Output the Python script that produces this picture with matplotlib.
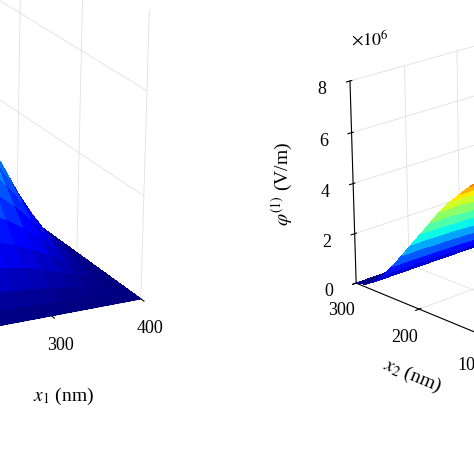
import numpy as np
import matplotlib
matplotlib.use("Agg")
import matplotlib.pyplot as plt

plt.rcParams['font.family'] = ['Liberation Serif', 'DejaVu Serif']
plt.rcParams['mathtext.fontset'] = 'stix'

x1_nm = [0, 20, 40, 60, 80, 100, 120, 140, 160, 180, 200, 220, 240, 260, 280, 300, 320, 340, 360, 380, 400]
p1 = [1.0, 1.0, 1.0, 0.99, 0.99, 0.98, 0.97, 0.96, 0.95, 0.93, 0.91, 0.88, 0.84, 0.79, 0.72, 0.63, 0.51, 0.37, 0.21, 0.07, 0.0]
x2_nm = [0, 15, 30, 45, 60, 75, 90, 105, 120, 135, 150, 165, 180, 195, 210, 225, 240, 255, 270, 285, 300]
p2 = [1.0, 0.995, 0.98, 0.96, 0.93, 0.9, 0.86, 0.82, 0.77, 0.71, 0.65, 0.58, 0.5, 0.42, 0.34, 0.26, 0.18, 0.11, 0.05, 0.015, 0.0]
phi_max = 7.2e6

X1, X2 = np.meshgrid(x1_nm, x2_nm)
PHI = phi_max * np.outer(p2, p1)

fig = plt.figure(figsize=(4.74, 4.74), dpi=100)


def make_axes(rect, azim, flip_y=False, ztop=8e6):
    ax = fig.add_axes(rect, projection='3d')
    ax.plot_surface(X1, X2, PHI, cmap='jet', vmin=0, vmax=7.4e6, shade=False,
                    linewidth=0, antialiased=False, rstride=1, cstride=1)
    ax.view_init(elev=20, azim=azim)
    ax.set_xticks([0, 100, 200, 300, 400])
    ax.set_yticks([0, 100, 200, 300])
    zt = [v for v in [0, 2e6, 4e6, 6e6, 8e6] if v <= ztop]
    ax.set_zticks(zt)
    ax.set_zticklabels([str(int(v / 1e6)) for v in zt])
    ax.set_xlim(0, 400)
    ax.set_ylim((300, 0) if flip_y else (0, 300))
    ax.set_zlim(0, ztop)
    for a in (ax.xaxis, ax.yaxis, ax.zaxis):
        a.set_pane_color((1, 1, 1, 0))
        a._axinfo['grid']['color'] = (0.88, 0.88, 0.88, 1)
        a._axinfo['grid']['linewidth'] = 0.6
    ax.tick_params(labelsize=13)
    ax.set_xlabel(r'$x_1$ (nm)', fontsize=14, labelpad=10)
    ax.set_ylabel(r'$x_2$ (nm)', fontsize=14, labelpad=10)
    ax.zaxis.set_rotate_label(False)
    ax.set_zlabel(r'$\varphi^{(1)}$ (V/m)', fontsize=14, rotation=90, labelpad=8)
    return ax


ax_l = make_axes([-0.975, 0.068, 1.375, 1.31], azim=-115, flip_y=True, ztop=5.5e6)
ax_l.set_xlabel('')
fig.text(0.07, 0.155, r'$x_1$ (nm)', fontsize=14)
ax_r = make_axes([0.69, 0.13, 0.94, 0.94], azim=-135)
fig.text(0.74, 0.905, r'$\times10^6$', fontsize=13)

fig.savefig('out.png', dpi=100)
